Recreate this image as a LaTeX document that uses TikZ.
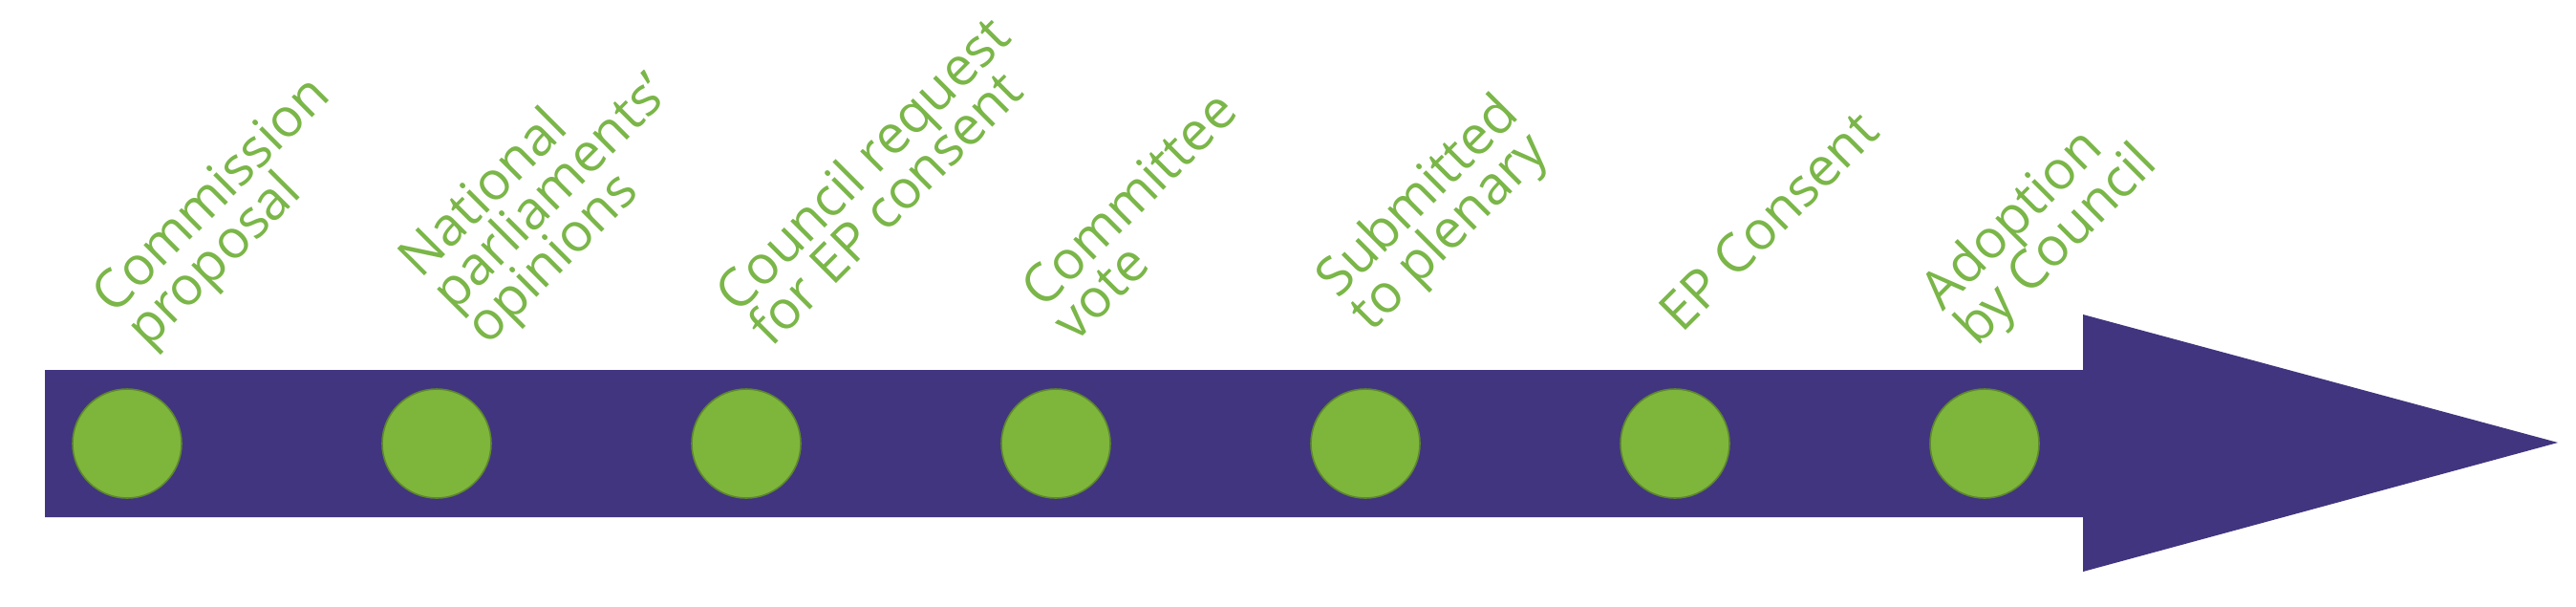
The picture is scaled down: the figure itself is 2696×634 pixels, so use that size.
\documentclass[tikz,border=0pt]{standalone}
\usepackage{fontspec}
\setmainfont{Open Sans}
\definecolor{barcol}{HTML}{41357F}
\definecolor{dotcol}{HTML}{7EB63C}
\definecolor{lblcol}{HTML}{7AB648}
\begin{document}
\begin{tikzpicture}[x=0.5pt,y=-0.5pt,
  lbl/.style={rotate=45,anchor=base west,inner sep=0pt,text=lblcol,font=\fontsize{28}{28}\selectfont},
  dotnode/.style={circle,fill=dotcol,draw=dotcol!75!black,line width=0.8pt,minimum size=57pt,inner sep=0pt}]
\useasboundingbox (0,0) rectangle (2696,634);
\fill[white] (0,0) rectangle (2696,634);
% arrow
\fill[barcol] (47,387) -- (2180,387) -- (2180,329) -- (2677,463) -- (2180,598) -- (2180,541) -- (47,541) -- cycle;
% dots
\foreach \i in {0,...,6} {
  \node[dotnode] (c\i) at ({133+324*\i},464) {};
}
% labels
\node[lbl] (t1a) at (119,331) {Commission};
\node[lbl] (t1b) at (155,366) {proposal};
\node[lbl] (t2a) at (440,293) {National};
\node[lbl] (t2b) at (475,328) {parliaments'};
\node[lbl] (t2c) at (510,363) {opinions};
\node[lbl] (t3a) at (772,330) {Council request};
\node[lbl] (t3b) at (807,365) {for EP consent};
\node[lbl] (t4a) at (1092,325) {Committee};
\node[lbl] (t4b) at (1125,360) {vote};
\node[lbl] (t5a) at (1400,314) {Submitted};
\node[lbl] (t5b) at (1435,349) {to plenary};
\node[lbl] (t6a) at (1760,350) {EP Consent};
\node[lbl] (t7a) at (2033,327) {Adoption};
\node[lbl] (t7b) at (2069,364) {by Council};
\end{tikzpicture}
\end{document}
